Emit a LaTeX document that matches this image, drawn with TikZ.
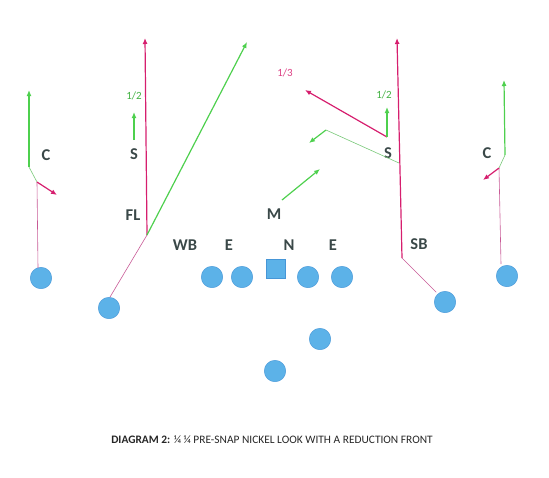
\documentclass[tikz,border=0pt]{standalone}
\usepackage{fontspec}
\setmainfont{Carlito}
\usetikzlibrary{arrows.meta}
\definecolor{pblue}{RGB}{92,178,232}
\definecolor{pblueedge}{RGB}{70,150,215}
\definecolor{mag}{RGB}{214,30,110}
\definecolor{pinkthin}{RGB}{200,90,150}
\definecolor{grn}{RGB}{78,208,78}
\definecolor{grnthin}{RGB}{120,200,120}
\definecolor{lbl}{RGB}{58,72,72}
\tikzset{
  player/.style={circle,fill=pblue,draw=pblueedge,line width=0.4pt,minimum size=21.5pt,inner sep=0pt},
  center/.style={rectangle,fill=pblue,draw=pblueedge,line width=0.4pt,minimum size=19pt,inner sep=0pt},
  lab/.style={font=\fontsize{16.5}{18}\selectfont\bfseries,text=lbl,inner sep=0pt},
  small/.style={font=\fontsize{11}{12}\selectfont,inner sep=0pt},
  tip/.style={-{Latex[length=6pt,width=5pt]}},
  magarrow/.style={mag,line width=1.2pt,tip},
  grnarrow/.style={grn,line width=1.2pt,tip},
  pinkline/.style={pinkthin,line width=0.6pt},
  grnline/.style={grnthin,line width=0.6pt},
}
\begin{document}
\begin{tikzpicture}[x=1pt,y=-1pt]
\useasboundingbox (0,0) rectangle (549,477);
% players
\node[player] (lc) at (41,278) {};
\node[player] (fl) at (109,308) {};
\node[player] (wb) at (212,277) {};
\node[player] (le) at (242,277) {};
\node[center] (n) at (276,269) {};
\node[player] (re) at (308,277) {};
\node[player] (ret) at (342,277) {};
\node[player] (lb1) at (320,339) {};
\node[player] (lb2) at (275,371) {};
\node[player] (sb) at (445,302) {};
\node[player] (rc) at (507,276) {};
% labels
\node[lab] (tC1) at (46,155) {C};
\node[lab] (tS1) at (134,154) {S};
\node[lab] (tFL) at (133,215) {FL};
\node[lab] (tWB) at (185,245) {WB};
\node[lab] (tE1) at (229,245) {E};
\node[lab] (tN) at (289,245) {N};
\node[lab] (tE2) at (333,245) {E};
\node[lab] (tM) at (274,214) {M};
\node[lab] (tS2) at (388,153) {S};
\node[lab] (tSB) at (419,244) {SB};
\node[lab] (tC2) at (487,153) {C};
\node[small,text=grn!85!black] (h1) at (134,96) {1/2};
\node[small,text=grn!85!black] (h2) at (384,95) {1/2};
\node[small,text=mag!85!white] (t3) at (285,73) {1/3};
% coordinates
\coordinate (lcj) at (37,182);
\coordinate (lcg) at (29,167);
\coordinate (lcgt) at (29,90);
\coordinate (lcm) at (57,195);
\coordinate (s1b) at (134,140);
\coordinate (s1t) at (134,112);
\coordinate (flj) at (147,235);
\coordinate (flt) at (145,38);
\coordinate (flg) at (247,42);
\coordinate (mb) at (282,200);
\coordinate (mt) at (320,169);
\coordinate (sbj) at (402,258);
\coordinate (sbt) at (397,38);
\coordinate (s2j) at (387,137);
\coordinate (s2m) at (305,90);
\coordinate (s2g) at (387,107);
\coordinate (s2a) at (399,163);
\coordinate (s2b) at (326,130);
\coordinate (s2c) at (309,143);
\coordinate (rcj) at (499,168);
\coordinate (rcg) at (505,155);
\coordinate (rcgt) at (504,80);
\coordinate (rcm) at (483,180);
% left corner
\draw[pinkline] (lc.north) ++(-3,1) -- (lcj);
\draw[grnline] (lcj) -- (lcg);
\draw[grnarrow] (lcg) -- (lcgt);
\draw[magarrow] (lcj) -- (lcm);
% left safety
\draw[grnarrow] (s1b) -- (s1t);
% flanker
\draw[pinkline] (fl.north) ++(1,0) -- (flj);
\draw[magarrow] (flj) -- (flt);
\draw[grnarrow] (flj) -- (flg);
% mike
\draw[grnarrow] (mb) -- (mt);
% slot
\draw[pinkline] (sb.north west) ++(-1,-2) -- (sbj);
\draw[magarrow] (sbj) -- (sbt);
% right safety
\draw[magarrow] (s2j) -- (s2m);
\draw[grnarrow] (s2j) -- (s2g);
\draw[grnline] (s2a) -- (s2b);
\draw[grnarrow] (s2b) -- (s2c);
% right corner
\draw[pinkline] (rc.north) ++(-6,-1) -- (rcj);
\draw[magarrow] (rcj) -- (rcm);
\draw[grnline] (rcj) -- (rcg);
\draw[grnarrow] (rcg) -- (rcgt);
% caption
\node[font=\fontsize{11.4}{13}\selectfont,text=black!85,inner sep=0pt] (cap) at (272,440) {\textbf{DIAGRAM 2:} ¼ ¼ PRE-SNAP NICKEL LOOK WITH A REDUCTION FRONT};
\end{tikzpicture}
\end{document}
